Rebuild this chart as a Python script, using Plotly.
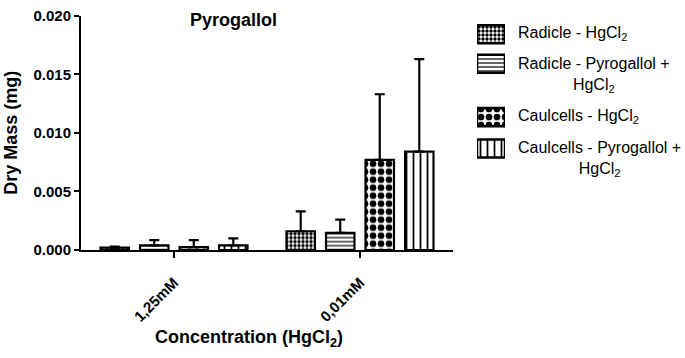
import plotly.graph_objects as go

W, H = 685, 358
categories = ["1,25mM", "0,01mM"]
series_names = ["Radicle - HgCl<sub>2</sub>",
                "Radicle - Pyrogallol +<br>HgCl<sub>2</sub>",
                "Caulcells - HgCl<sub>2</sub>",
                "Caulcells - Pyrogallol +<br>HgCl<sub>2</sub>"]
means = [
    [0.0002, 0.0016],
    [0.0004, 0.00146],
    [0.00025, 0.0077],
    [0.0004, 0.0084],
]
errors = [
    [0.0001, 0.0017],
    [0.00045, 0.00114],
    [0.0006, 0.0056],
    [0.0006, 0.0079],
]
y_ticks = [0.0, 0.005, 0.010, 0.015, 0.020]

patterns = [
    dict(shape=".", size=4, solidity=0.55, fgcolor="black", bgcolor="white", fillmode="replace"),
    dict(shape="-", size=4, solidity=0.3, fgcolor="black", bgcolor="white", fillmode="replace"),
    dict(shape=".", size=8, solidity=0.55, fgcolor="black", bgcolor="white", fillmode="replace"),
    dict(shape="|", size=7, solidity=0.25, fgcolor="black", bgcolor="white", fillmode="replace"),
]

# plot area pixels
X0, X1, YT, YB = 81, 453, 7, 253

fig = go.Figure()
for i in range(4):
    fig.add_trace(go.Bar(
        x=categories, y=means[i], name=series_names[i], showlegend=False,
        marker=dict(color="white", line=dict(color="black", width=2.2), pattern=patterns[i]),
        error_y=dict(type="data", array=errors[i], arrayminus=[0] * len(errors[i]),
                     symmetric=False, color="black", thickness=2.2, width=5),
        xaxis="x", yaxis="y",
    ))

# custom legend swatches (pixel coordinates on a helper axis)
sw_top = [17, 48, 104, 137]
sw_h = 19
for i in range(4):
    fig.add_trace(go.Bar(
        x=[0], y=[sw_h], base=[sw_top[i]], width=[1], offsetgroup="sw",
        marker=dict(color="white", line=dict(color="black", width=2.5), pattern=patterns[i]),
        showlegend=False, xaxis="x2", yaxis="y2", hoverinfo="skip",
    ))

fnt = "Liberation Sans, Arial, sans-serif"
fig.update_layout(
    width=W, height=H, margin=dict(l=0, r=0, t=0, b=0),
    paper_bgcolor="white", plot_bgcolor="white",
    barmode="group", bargap=0.15, bargroupgap=0.28,
    font=dict(family=fnt, color="black"),
    xaxis=dict(domain=[X0 / W, X1 / W], range=[-0.5, 1.5], showline=True, linecolor="black",
               linewidth=2, ticks="outside", ticklen=6, tickwidth=2, tickcolor="black",
               tickangle=-45, tickfont=dict(size=15, family=fnt, weight="bold"),
               showgrid=False, zeroline=False, ticklabelstandoff=10),
    yaxis=dict(domain=[(H - YB) / H, (H - YT) / H], range=[0, 0.02001], showline=True,
               linecolor="black", linewidth=2, ticks="outside", ticklen=5, tickwidth=2,
               tickcolor="black", tickvals=y_ticks, tickformat=".3f",
               tickfont=dict(size=15, family=fnt, weight="bold"),
               ticklabeloverflow="allow",
               showgrid=False, zeroline=False),
    xaxis2=dict(domain=[477 / W, 505 / W], range=[-0.5, 0.5], visible=False, anchor="y2"),
    yaxis2=dict(domain=[0, 1], range=[H, 0], visible=False, anchor="x2"),
)

ann = [
    dict(text="<b>Pyrogallol</b>", x=233, y=12, size=18),
    dict(text="<b>Dry Mass (mg)</b>", x=11, y=130, size=18, angle=-90),
    dict(text="<b>Concentration (HgCl<sub>2</sub>)</b>", x=249, y=346, size=18),
]
for a in ann:
    fig.add_annotation(text=a["text"], x=a["x"] / W, y=1 - a["y"] / H, xref="paper", yref="paper",
                       showarrow=False, xanchor="center", yanchor="middle",
                       textangle=a.get("angle", 0), font=dict(size=a["size"], family=fnt))

leg_y = [26, 69, 113, 158]
for i in range(4):
    fig.add_annotation(text=series_names[i], x=516 / W, y=1 - leg_y[i] / H, xref="paper", yref="paper",
                       showarrow=False, xanchor="left", yanchor="middle", align="center",
                       font=dict(size=16, family=fnt))

fig.write_html("out.html", config={"displayModeBar": False},
               post_script="document.body.style.margin='0';document.body.style.overflow='hidden';")
